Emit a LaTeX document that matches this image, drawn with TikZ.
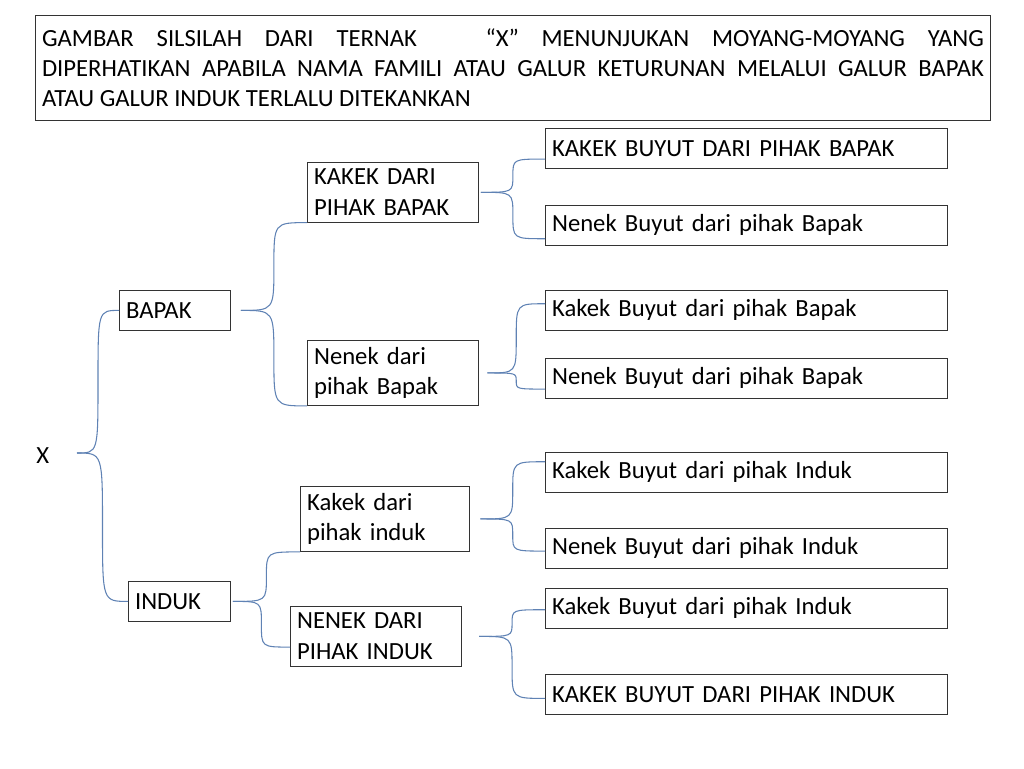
\documentclass[tikz,border=0pt]{standalone}
\usepackage{fontspec}
\setmainfont{Carlito}
\usetikzlibrary{calc}
\definecolor{bracecol}{RGB}{95,130,180}
\tikzset{
    % Define style for boxes
    box/.style={
           rectangle,
           draw=black!80, semithick,
           anchor=north west,
           inner sep=5pt,
           align=left,
           font=\fontsize{18.5}{23}\selectfont},
    wide/.style={box, text width=402*0.75pt-10pt, minimum height=40*0.75pt},
    % Define brace style
    brc/.style={
           draw=bracecol, thick}
}
\newcommand{\bracehalf}[2]{%
  \path (#1) coordinate (p) (#2) coordinate (q) ($(p)!.5!(q)$) coordinate (m);
  \draw[brc] (p) .. controls (m |- p) .. (m) .. controls (m |- q) .. (q);}
\begin{document}
\begin{tikzpicture}[x=0.75pt,y=-0.75pt]
  \useasboundingbox (0,0) rectangle (1024,768);
  \node[box, text width=955*0.75pt-10pt, align=justify,
        font=\fontsize{18.5}{22.5}\selectfont,
        minimum height=105*0.75pt] (title) at (35,15)
    {GAMBAR SILSILAH DARI TERNAK \ \ ``X'' MENUNJUKAN MOYANG-MOYANG YANG\linebreak DIPERHATIKAN APABILA NAMA FAMILI ATAU GALUR KETURUNAN MELALUI GALUR BAPAK\linebreak ATAU GALUR INDUK TERLALU DITEKANKAN};

  % great-grandparents
  \node[wide] (bb1) at (545,128) {KAKEK BUYUT DARI PIHAK BAPAK};
  \node[wide] (bb2) at (545,205) {Nenek Buyut dari pihak Bapak};
  \node[wide] (bb3) at (545,290) {Kakek Buyut dari pihak Bapak};
  \node[wide] (bb4) at (545,358) {Nenek Buyut dari pihak Bapak};
  \node[wide] (bi1) at (545,452) {Kakek Buyut dari pihak Induk};
  \node[wide] (bi2) at (545,528) {Nenek Buyut dari pihak Induk};
  \node[wide] (bi3) at (545,588) {Kakek Buyut dari pihak Induk};
  \node[wide] (bi4) at (545,674) {KAKEK BUYUT DARI PIHAK INDUK};

  % grandparents
  \node[box, text width=171*0.75pt-10pt] (kb) at (307,162) {KAKEK DARI\\PIHAK BAPAK};
  \node[box, text width=171*0.75pt-10pt] (nb) at (307,340) {Nenek dari\\pihak Bapak};
  \node[box, text width=169*0.75pt-10pt] (ki) at (300,486) {Kakek dari\\pihak induk};
  \node[box, text width=171*0.75pt-10pt] (ni) at (290,606) {NENEK DARI\\PIHAK INDUK};

  % parents
  \node[box, text width=111*0.75pt-10pt, minimum height=40*0.75pt] (bapak) at (119,290) {BAPAK};
  \node[box, text width=102*0.75pt-10pt, minimum height=40*0.75pt] (induk) at (128,581) {INDUK};

  \node[anchor=west, font=\fontsize{18.5}{20}\selectfont, inner sep=0pt] (x) at (36,456) {X};

  % brace tips
  \coordinate (tx) at (77,453);
  \coordinate (tbapak) at ([xshift=7.5]bapak.east);
  \coordinate (tinduk) at ([xshift=1.5]induk.east);
  \coordinate (tkb) at ([xshift=1.5]kb.east);
  \coordinate (tnb) at ([xshift=6.5]nb.east);
  \coordinate (tki) at ([xshift=8]ki.east);
  \coordinate (tni) at ([xshift=13]ni.east);

  \bracehalf{tx}{bapak.west}
  \bracehalf{tx}{induk.west}
  \bracehalf{tbapak}{kb.south west}
  \bracehalf{tbapak}{nb.south west}
  \bracehalf{tinduk}{ki.south west}
  \bracehalf{tinduk}{[yshift=-8]ni.west}
  \bracehalf{tkb}{[yshift=-8]bb1.west}
  \bracehalf{tkb}{[yshift=-10]bb2.west}
  \bracehalf{tnb}{[yshift=5]bb3.west}
  \bracehalf{tnb}{[yshift=-8]bb4.west}
  \bracehalf{tki}{[yshift=8]bi1.west}
  \bracehalf{tki}{[yshift=-2]bi2.west}
  \bracehalf{tni}{[yshift=-1]bi3.west}
  \bracehalf{tni}{[yshift=-3]bi4.west}
\end{tikzpicture}
\end{document}
